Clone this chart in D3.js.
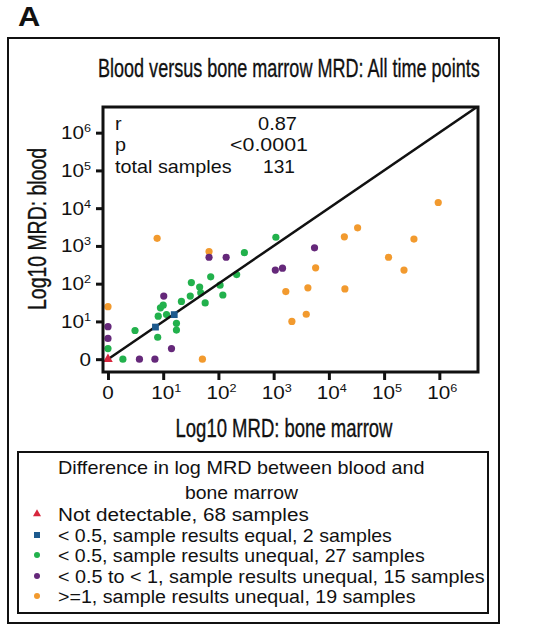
<!DOCTYPE html>
<html>
<head>
<meta charset="utf-8">
<script src="https://cdn.jsdelivr.net/npm/d3@7"></script>
<style>
  html, body { margin: 0; padding: 0; background: #fff; }
  svg { display: block; }
</style>
</head>
<body>
<div id="chart"></div>
<script>
// ---------- DATA (log10 MRD values; 0 = undetectable) ----------
const tickExponents = [0, 1, 2, 3, 4, 5, 6];

const notDetectableBM    = [0];
const notDetectableBlood = [0];

const equalBM    = [0.86, 1.20];
const equalBlood = [0.85, 1.18];

const greenBM    = [0.00, 0.27, 0.49, 0.90, 0.91, 0.95, 1.00, 1.06, 1.24, 1.24, 1.33, 1.49, 1.51, 1.66, 1.68, 1.76, 1.86, 2.03, 2.08, 2.33, 2.47, 3.04];
const greenBlood = [0.28, 0.00, 0.76, 0.58, 1.14, 1.36, 1.43, 1.18, 0.95, 0.77, 1.53, 1.67, 2.03, 1.91, 1.76, 1.49, 2.18, 1.96, 1.70, 2.24, 2.82, 3.23];

const purpleBM    = [0.00, 0.00, 0.57, 0.85, 1.15, 1.01, 1.83, 2.14, 3.03, 3.16, 3.74];
const purpleBlood = [0.86, 0.55, 0.00, 0.00, 0.28, 1.67, 2.70, 2.70, 2.36, 2.41, 2.95];

const orangeBM    = [0.00, 1.71, 0.89, 1.83, 3.22, 3.33, 3.59, 3.62, 3.76, 4.28, 4.29, 4.52, 5.08, 5.36, 5.54, 5.98];
const orangeBlood = [1.39, 0.00, 3.20, 2.85, 1.79, 1.00, 1.19, 1.89, 2.42, 3.24, 1.86, 3.48, 2.70, 2.36, 3.18, 4.15];

const statLabels = ["r", "p", "total samples"];
const statValues = ["0.87", "<0.0001", "131"];

const legendTitle = ["Difference in log MRD between blood and", "bone marrow"];
const legendLabels = [
  "Not detectable, 68 samples",
  "< 0.5, sample results equal, 2 samples",
  "< 0.5, sample results unequal, 27 samples",
  "< 0.5 to < 1, sample results unequal, 15 samples",
  ">=1, sample results unequal, 19 samples"
];
const groupColors = ["#d7263d", "#1d5a8e", "#22b14c", "#65287a", "#f29a2e"];
const groupShapes = ["triangle", "square", "circle", "circle", "circle"];

// ---------- SETUP ----------
const W = 545, H = 632;
const svg = d3.select("#chart").append("svg").attr("width", W).attr("height", H);
const SANS = "'Liberation Sans', Arial, Helvetica, sans-serif";
const NARROW = "'Liberation Sans Narrow', 'Arial Narrow', 'Liberation Sans', sans-serif";

// text placed in a group, optionally stretched horizontally to a target width
function stext(parent, x, y, str, o) {
  o = o || {};
  const g = parent.append("g");
  const t = g.append("text")
    .attr("text-anchor", o.anchor || "start")
    .attr("font-family", o.family || SANS)
    .attr("font-size", o.size || 18)
    .attr("font-weight", o.weight || "normal")
    .attr("fill", "#111")
    .text(str);
  if (o.bold) t.attr("stroke", "#111").attr("stroke-width", o.bold);
  let sx = o.sx || 1;
  if (o.width) sx = o.width / t.node().getComputedTextLength();
  g.attr("transform", `translate(${x},${y})${o.rotate ? " rotate(" + o.rotate + ")" : ""} scale(${sx},1)`);
  return t;
}

// Panel label
stext(svg, 18, 26, "A", {size: 28, weight: "bold", sx: 1.1});

// Outer frame
svg.append("rect").attr("x", 8).attr("y", 38).attr("width", 491).attr("height", 585)
  .attr("fill", "none").attr("stroke", "#111").attr("stroke-width", 2);

// Title
stext(svg, 98, 77, "Blood versus bone marrow MRD: All time points", {family: NARROW, size: 26, width: 382, bold: 0.35});

// Scales
const x = d3.scaleLinear().domain([-0.09, 6.7]).range([103, 478]);
const y = d3.scaleLinear().domain([-0.34, 6.68]).range([372, 107]);

// Axes
const axL = svg.append("g").attr("transform", `translate(${x.range()[0]},0)`)
  .call(d3.axisLeft(y).tickValues(tickExponents).tickSize(7).tickFormat(""));
const axB = svg.append("g").attr("transform", `translate(0,${y.range()[0]})`)
  .call(d3.axisBottom(x).tickValues(tickExponents).tickSize(8).tickFormat(""));
[axL, axB].forEach(a => {
  a.select(".domain").remove();
  a.selectAll(".tick line").attr("stroke", "#111").attr("stroke-width", 3);
});

function powLabel(parent, xx, yy, e, anchor) {
  const g = parent.append("g").attr("transform", `translate(${xx},${yy}) scale(1.15,1)`);
  const t = g.append("text").attr("text-anchor", anchor)
    .attr("font-family", SANS).attr("font-size", 18).attr("fill", "#111");
  if (e === 0) { t.text("0"); return; }
  t.append("tspan").text("10");
  t.append("tspan").attr("font-size", 11).attr("dy", -7).text(e);
}
tickExponents.forEach(e => {
  powLabel(svg, 91, y(e) + 6.5, e, "end");
  powLabel(svg, x(e) + (e === 0 ? 0 : 3), 399, e, "middle");
});

// Axis titles
stext(svg, 284, 437, "Log10 MRD: bone marrow", {family: NARROW, size: 25, anchor: "middle", width: 217, bold: 0.35});
stext(svg, 46, 229, "Log10 MRD: blood", {family: NARROW, size: 25, anchor: "middle", width: 162, rotate: -90, bold: 0.35});

// Plot area clip
svg.append("clipPath").attr("id", "clip").append("rect")
  .attr("x", x.range()[0]).attr("y", y.range()[1])
  .attr("width", x.range()[1] - x.range()[0]).attr("height", y.range()[0] - y.range()[1]);

const plot = svg.append("g").attr("clip-path", "url(#clip)");

// Points
const symTri = d3.symbol().type(d3.symbolTriangle).size(40);
function drawGroup(bm, bl, gi, size) {
  const pts = bm.map((v, i) => ({bx: v, by: bl[i]}));
  const col = groupColors[gi];
  if (groupShapes[gi] === "circle") {
    plot.selectAll(null).data(pts).enter().append("circle")
      .attr("cx", d => x(d.bx)).attr("cy", d => y(d.by)).attr("r", size).attr("fill", col);
  } else if (groupShapes[gi] === "square") {
    plot.selectAll(null).data(pts).enter().append("rect")
      .attr("x", d => x(d.bx) - size).attr("y", d => y(d.by) - size)
      .attr("width", size * 2).attr("height", size * 2).attr("fill", col);
  } else {
    plot.selectAll(null).data(pts).enter().append("path")
      .attr("d", symTri).attr("transform", d => `translate(${x(d.bx)},${y(d.by)})`).attr("fill", col);
  }
}
drawGroup(orangeBM, orangeBlood, 4, 3.6);
drawGroup(purpleBM, purpleBlood, 3, 3.6);
drawGroup(greenBM, greenBlood, 2, 3.6);

// identity line
plot.append("line")
  .attr("x1", x(0)).attr("y1", y(0)).attr("x2", x(6.75)).attr("y2", y(6.75))
  .attr("stroke", "#111").attr("stroke-width", 2.5);

drawGroup(equalBM, equalBlood, 1, 3.4);
drawGroup(notDetectableBM, notDetectableBlood, 0, 3);

// Plot frame
svg.append("rect").attr("x", x.range()[0]).attr("y", y.range()[1])
  .attr("width", x.range()[1] - x.range()[0]).attr("height", y.range()[0] - y.range()[1])
  .attr("fill", "none").attr("stroke", "#111").attr("stroke-width", 3);

// Stats box text
const statY = [130, 151, 173];
const statX = [258, 230, 263];
const statW = [39, 78, 32];
statLabels.forEach((s, i) => {
  stext(svg, 115, statY[i], s, {size: 18, sx: 1.1});
  stext(svg, statX[i], statY[i], statValues[i], {size: 18, width: statW[i]});
});

// Legend
svg.append("rect").attr("x", 18).attr("y", 452).attr("width", 470).attr("height", 161)
  .attr("fill", "none").attr("stroke", "#111").attr("stroke-width", 2);
stext(svg, 58, 474, legendTitle[0], {size: 19, width: 367});
stext(svg, 185, 499, legendTitle[1], {size: 19, width: 113});
const legY = [521, 542, 562, 583, 603];
const legW = [251, 334, 367, 427, 358];
legendLabels.forEach((lab, i) => {
  const cy = legY[i] - 7;
  if (groupShapes[i] === "circle") {
    svg.append("circle").attr("cx", 37).attr("cy", cy).attr("r", 3).attr("fill", groupColors[i]);
  } else if (groupShapes[i] === "square") {
    svg.append("rect").attr("x", 34).attr("y", cy - 3).attr("width", 6).attr("height", 6).attr("fill", groupColors[i]);
  } else {
    svg.append("path").attr("d", d3.symbol().type(d3.symbolTriangle).size(28))
      .attr("transform", `translate(37,${cy})`).attr("fill", groupColors[i]);
  }
  stext(svg, 58, legY[i], lab, {size: 19, width: legW[i]});
});
</script>
</body>
</html>
